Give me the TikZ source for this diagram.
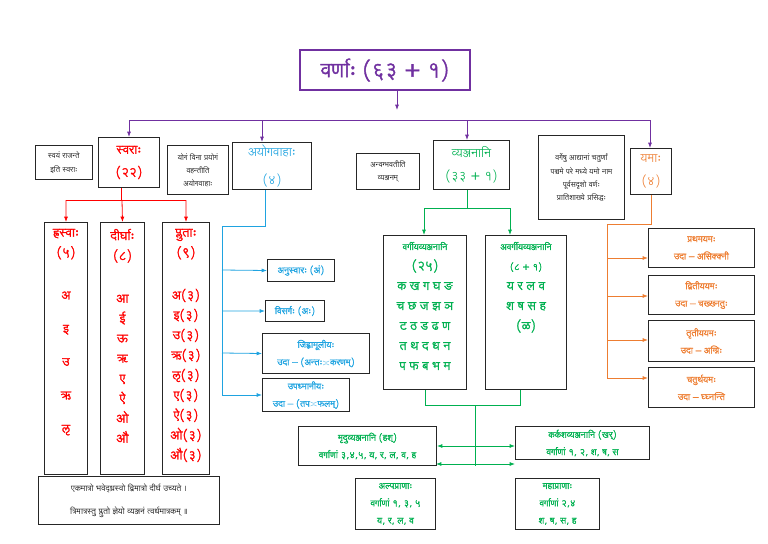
\documentclass[tikz,border=0pt]{standalone}
\usepackage{fontspec}
\IfFontExistsTF{Lohit Devanagari}{\newfontfamily\dev{Lohit Devanagari}[Script=Devanagari]\newfontfamily\devb{Lohit Devanagari}[Script=Devanagari,FakeBold=2]}{%
\IfFontExistsTF{FreeSerif}{\newfontfamily\dev{FreeSerif}[Script=Devanagari]\newfontfamily\devb{FreeSerif}[Script=Devanagari,FakeBold=2]}{%
\newfontfamily\dev{Liberation Sans}\newfontfamily\devb{Liberation Sans}}}
\usetikzlibrary{arrows.meta}
\definecolor{pur}{HTML}{7030A0}
\definecolor{rd}{HTML}{FF0000}
\definecolor{bl}{HTML}{1FA3E0}
\definecolor{gr}{HTML}{00B050}
\definecolor{og}{HTML}{ED7D31}
\begin{document}
\begin{tikzpicture}[x=0.75pt,y=-0.75pt,
 box/.style={draw=black!85,line width=0.8pt,align=center,font=\dev\fontsize{5.5}{10}\selectfont,inner sep=1pt},
 arr/.style={-{Latex[length=4pt,width=3pt]},line width=0.6pt},
 dbl/.style={{Latex[length=4pt,width=3pt]}-{Latex[length=4pt,width=3pt]},line width=0.6pt},
 big/.style={font=\devb\fontsize{9}{17}\selectfont},
 mid/.style={font=\devb\fontsize{6.5}{13}\selectfont},
 col/.style={align=center,inner sep=0pt,anchor=north,text=rd,font=\devb\fontsize{9}{15}\selectfont}]
\useasboundingbox (0,0) rectangle (768,543);
\newcommand{\bx}[6]{\node[box,#6,minimum width=#3*0.75pt-0.8pt,minimum height=#4*0.75pt-0.8pt,anchor=north west] (#1) at (#2) {#5};}
% title
\node[draw=pur,line width=1.6pt,minimum width=127.5pt,minimum height=30pt,text=pur,font=\devb\fontsize{15}{18}\selectfont] (title) at (385,70) {वर्णाः (६३ + १)};
% level 1
\bx{svdef}{35,145}{58}{35}{स्वयं राजन्ते\\इति स्वराः}{}
\bx{svara}{98,137}{62}{51}{स्वराः\\(२२)}{text=rd,big}
\bx{aydef}{167,145}{62}{50}{योगं विना प्रयोगं\\वहन्तीति\\अयोगवाहाः}{}
\bx{ayoga}{232,142}{80}{48}{अयोगवाहाः\\[4pt](४)}{text=bl,font=\dev\fontsize{9}{17}\selectfont}
\bx{vydef}{356,153}{64}{37}{अन्वग्भवतीति\\व्यञ्जनम्}{}
\bx{vyan}{433,140}{77}{50}{व्यञ्जनानि\\(३३ + १)}{text=gr,font=\dev\fontsize{9}{17}\selectfont}
\bx{yadef}{538,135}{87}{85}{वर्गेषु आद्यानां चतुर्णां\\पञ्चमे परे मध्ये यमो नाम\\पूर्वसदृशो वर्णः\\प्रातिशाख्ये प्रसिद्धः}{}
\bx{yama}{630,148}{42}{47}{यमाः\\(४)}{text=og,font=\dev\fontsize{9}{17}\selectfont}
\draw[arr,pur] (title.south -| 397,0) -- (397,110);
\draw[pur,line width=0.6pt] (129,120) -- (650,120);
\draw[arr,pur] (129,120) -- (svara.north -| 129,0);
\draw[arr,pur] (262,120) -- (ayoga.north -| 262,0);
\draw[arr,pur] (467,120) -- (vyan.north -| 467,0);
\draw[arr,pur] (650,120) -- (yama.north -| 650,0);
% red branch
\bx{hras}{44,222}{44}{253}{}{}
\bx{dirgha}{100,222}{45}{253}{}{}
\bx{pluta}{162,222}{48}{253}{}{}
\node[col] (hrasT) at ([yshift=-5pt]hras.north) {ह्रस्वाः\\(५)\\[17pt]अ\\[10pt]इ\\[10pt]उ\\[10pt]ऋ\\[10pt]ऌ};
\node[col] (dirghaT) at ([yshift=-5pt]dirgha.north) {दीर्घाः\\(८)\\[17pt]आ\\ई\\ऊ\\ॠ\\ए\\ऐ\\ओ\\औ};
\node[col] (plutaT) at ([yshift=-5pt]pluta.north) {प्लुताः\\(९)\\[17pt]अ(३)\\इ(३)\\उ(३)\\ऋ(३)\\ऌ(३)\\ए(३)\\ऐ(३)\\ओ(३)\\औ(३)};
\bx{verse}{38,476}{182}{49}{एकमात्रो भवेद्ध्रस्वो द्विमात्रो दीर्घ उच्यते ।\\त्रिमात्रस्तु प्लुतो ज्ञेयो व्यञ्जनं त्वर्धमात्रकम् ॥}{font=\dev\fontsize{6}{17}\selectfont}
\draw[rd,line width=0.6pt] (svara.south -| 121,0) -- (121,200) (66,200) -- (186,200);
\draw[arr,rd] (66,200) -- (hras.north);
\draw[arr,rd] (122,200) -- (dirgha.north);
\draw[arr,rd] (186,200) -- (pluta.north);
% blue branch
\bx{anu}{267,259}{68}{23}{अनुस्वारः (अं)}{text=bl,mid}
\bx{visa}{265,300}{60}{22}{विसर्गः (अः)}{text=bl,mid}
\bx{jihva}{262,333}{108}{41}{जिह्वामूलीयः\\उदा – (अन्तः$\asymp$करणम्)}{text=bl,mid}
\bx{upa}{262,378}{88}{34}{उपध्मानीयः\\उदा – (तप$\asymp$फलम्)}{text=bl,mid}
\draw[bl,line width=0.6pt] (ayoga.south -| 265,0) -- (265,226) -- (222,226) -- (222,395);
\draw[arr,bl] (222,270) -- (anu.west);
\draw[arr,bl] (222,311) -- (visa.west);
\draw[arr,bl] (222,353) -- (jihva.west);
\draw[arr,bl] (222,395) -- (upa.west |- 0,395);
% green branch
\bx{varg}{383,235}{84}{155}{}{}
\bx{avarg}{485,235}{82}{155}{}{}
\node[col,text=gr,font=\devb\fontsize{9}{15}\selectfont] (vargT) at ([yshift=-5pt]varg.north) {{\fontsize{6.5}{8}\selectfont वर्गीयव्यञ्जनानि}\\(२५)\\क ख ग घ ङ\\च छ ज झ ञ\\ट ठ ड ढ ण\\त थ द ध न\\प फ ब भ म};
\node[col,text=gr,font=\devb\fontsize{9}{15}\selectfont] (avargT) at ([yshift=-5pt]avarg.north) {{\fontsize{6.5}{8}\selectfont अवर्गीयव्यञ्जनानि}\\{\fontsize{6.5}{8}\selectfont (८ + १)}\\य र ल व\\श ष स ह\\(ळ)};
\draw[gr,line width=0.6pt] (vyan.south -| 467,0) -- (467,208) (424,208) -- (510,208);
\draw[arr,gr] (424,208) -- (varg.north -| 424,0);
\draw[arr,gr] (510,208) -- (avarg.north -| 510,0);
\bx{mrdu}{298,426}{139}{40}{मृदुव्यञ्जनानि (हश्)\\वर्गाणां ३,४,५, य, र, ल, व, ह}{text=gr,mid}
\bx{kark}{515,426}{135}{34}{कर्कशव्यञ्जनानि (खर्)\\वर्गाणां १, २, श, ष, स}{text=gr,mid}
\bx{alpa}{355,478}{81}{52}{अल्पप्राणाः\\वर्गाणां १, ३, ५\\य, र, ल, व}{text=gr,mid}
\bx{maha}{515,478}{85}{52}{महाप्राणाः\\वर्गाणां २,४\\श, ष, स, ह}{text=gr,mid}
\draw[gr,line width=0.6pt] (varg.south -| 425,0) -- (425,405) -- (520,405) -- (avarg.south -| 520,0) (475,405) -- (475,466);
\draw[dbl,gr] (mrdu.east |- 0,446) -- (kark.west |- 0,446);
\draw[dbl,gr] (alpa.east |- 0,464) -- (maha.west |- 0,464);
% orange branch
\bx{y1}{648,228}{107}{40}{प्रथमयमः\\उदा – असिक्क्नी}{text=og,mid}
\bx{y2}{648,275}{107}{40}{द्वितीययमः\\उदा – चख्ख्नतुः}{text=og,mid}
\bx{y3}{648,320}{107}{42}{तृतीययमः\\उदा – अग्ग्निः}{text=og,mid}
\bx{y4}{648,367}{107}{41}{चतुर्थयमः\\उदा – घ्घ्नन्ति}{text=og,mid}
\draw[og,line width=0.6pt] (yama.south -| 651,0) -- (651,224) -- (607,224) -- (607,378);
\draw[arr,og] (607,258) -- (y1.west |- 0,258);
\draw[arr,og] (607,296) -- (y2.west |- 0,296);
\draw[arr,og] (607,340) -- (y3.west |- 0,340);
\draw[arr,og] (607,378) -- (y4.west |- 0,378);
\end{tikzpicture}
\end{document}
